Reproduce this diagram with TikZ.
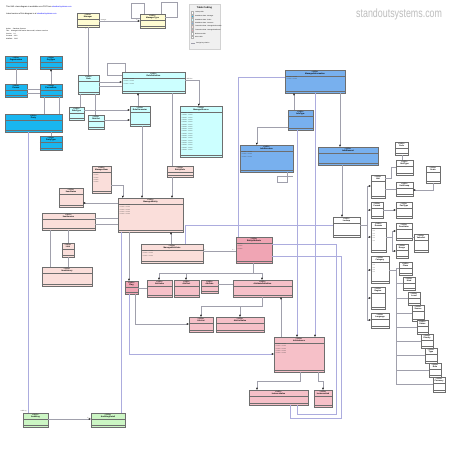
\documentclass[tikz,border=0pt]{standalone}
\usepackage{fontspec}
\setmainfont{Liberation Sans}
\usetikzlibrary{fit,arrows.meta,calc}
\definecolor{bblue}{RGB}{25,182,240}
\definecolor{lcyan}{RGB}{204,255,255}
\definecolor{mblue}{RGB}{120,176,238}
\definecolor{lyel}{RGB}{255,252,210}
\definecolor{lpink}{RGB}{250,222,218}
\definecolor{mpink}{RGB}{246,192,200}
\definecolor{dpink}{RGB}{240,165,180}
\definecolor{lgreen}{RGB}{204,246,196}
\definecolor{lnc}{RGB}{160,160,172}
\definecolor{lav}{RGB}{172,172,222}
\definecolor{bordc}{RGB}{110,110,110}
\definecolor{wmark}{RGB}{190,190,190}
\newcommand{\tbl}[7]{%
  \node[tbox,fill=#2,fit={(#3,#4)(#5,#6)}] (#1) {};
  \node[ttl,anchor=north] at ([yshift=-0.6pt]#1.north) {«table»\\\textbf{#7}};
  \draw[sep] ([yshift=-5.8pt]#1.north west) -- ([yshift=-5.8pt]#1.north east);
  \draw[sep] ([yshift=2.5pt]#1.south west) -- ([yshift=2.5pt]#1.south east);
}
\newcommand{\rws}[3]{\foreach \i in {1,...,#2}{\node[atr,anchor=north west] at ([xshift=1.2pt,yshift={-6.6pt-(\i-1)*2.3pt}]#1.north west) {#3};}}
\newcommand{\vc}[4][]{\coordinate (tx) at (#4,0);\draw[conn,#1] (#2.south -| tx) -- (#3.north -| tx);}
\newcommand{\hc}[4][]{\coordinate (ty) at (0,#4);\draw[conn,#1] (#2.east |- ty) -- (#3.west |- ty);}
\begin{document}
\begin{tikzpicture}[x=1pt,y=-1pt,
  tbox/.style={draw=bordc, line width=0.35pt, inner sep=0pt},
  ttl/.style={font=\fontsize{2}{2.4}\selectfont, align=center, inner sep=0pt},
  atr/.style={font=\fontsize{1.3}{1.5}\selectfont, inner sep=0pt, text=black!75},
  sep/.style={draw=bordc, line width=0.2pt},
  conn/.style={draw=lnc, line width=0.4pt},
  lng/.style={draw=lav, line width=0.5pt},
  arr/.style={-{Stealth[length=2.2pt,width=1.8pt,color=black]}},
  rarr/.style={{Stealth[length=2.2pt,width=1.8pt,color=black]}-},
  lbl/.style={font=\fontsize{1.5}{1.7}\selectfont, inner sep=0.3pt, text=black!70}]
\fill[white] (0,0) rectangle (452,452);
\useasboundingbox (0,0) rectangle (452,452);

% header texts
\node[anchor=west,font=\fontsize{2}{2.4}\selectfont,inner sep=0] (t1) at (6,7) {This UML class diagram is available as a PDF from \textcolor{blue}{standoutsystems.com}};
\node[anchor=west,font=\fontsize{2}{2.4}\selectfont,inner sep=0] (t2) at (6,14) {Latest version of this diagram is at \textcolor{blue}{standoutsystems.com}};
\node[anchor=north west,font=\fontsize{1.6}{2.5}\selectfont,inner sep=0,align=left] (t3) at (6,28) {Author:\quad Standout Systems\\Title:\quad Managed Information data model, schema overview\\Version:\quad 1.0\\Created:\quad 2012\\Modified:\quad 2012};
\node[anchor=west,text=wmark,font=\fontsize{12}{13}\selectfont,inner sep=0] (wm) at (356,14) {\scalebox{0.74}[1]{standoutsystems.com}};

% legend
\node[fill=gray!12,draw=gray!35,line width=0.3pt,inner sep=0,fit={(189,4)(220,49)}] (legend) {};
\node[font=\fontsize{2.4}{3}\selectfont\bfseries,inner sep=0] (lt) at (204.5,7.5) {Table Coding};
\foreach \y/\c/\t in {12.5/white/Lookup table, 16/bblue/Standalone data - Manager, 19.5/lcyan/Standalone data - Rules, 23/mblue/Standalone data - Structure, 26.5/lpink/Transaction data - Managed Information, 30/dpink/Transaction data - Managed Attributes, 33.5/white/Reference table, 37/white/Other table}{
  \fill[\c,draw=gray!60,line width=0.2pt] (191,\y-1.2) rectangle (193.4,\y+1.2);
  \node[anchor=west,font=\fontsize{1.5}{1.8}\selectfont,inner sep=0] at (195,\y) {\t};}
\draw[lnc,line width=0.3pt] (191,43) -- (195,43);
\node[anchor=west,font=\fontsize{1.5}{1.8}\selectfont,inner sep=0] (lf) at (196,43) {Foreign key relation};

% yellow
\tbl{Y1}{lyel}{77}{13}{99}{27}{Manager}
\tbl{Y2}{lyel}{140}{14}{165}{28}{ManagerType}
% bright blue
\tbl{B1}{bblue}{5}{56}{27}{69}{Organisation}
\tbl{B2}{bblue}{40}{56}{62}{69}{OrgType}
\tbl{B3}{bblue}{5}{84}{27}{97}{Person}
\tbl{B4}{bblue}{40}{84}{62}{97}{PersonRole}
\tbl{B5}{bblue}{5}{114}{62}{132}{Party}
\tbl{B6}{bblue}{40}{136}{62}{150}{PartyType}
% light cyan
\tbl{C1}{lcyan}{78}{75}{99}{94}{Rule}
\tbl{C2}{lcyan}{122}{72}{185}{93}{RuleDefinition}
\rws{C2}{3}{+ column : varchar}
\tbl{C3}{lcyan}{69}{107}{84}{120}{RuleType}
\tbl{C4}{lcyan}{88}{115}{104}{129}{RuleSet}
\tbl{C5}{lcyan}{130}{106}{150}{126}{RuleParameter}
\tbl{C6}{lcyan}{180}{106}{222}{157}{ManagedSource}
\rws{C6}{17}{+ attribute : varchar}
% medium blue
\tbl{M1}{mblue}{285}{70}{345}{93}{ManagedInformation}
\rws{M1}{2}{+ column : varchar}
\tbl{M2}{mblue}{288}{110}{313}{130}{InfoType}
\tbl{M3}{mblue}{240}{145}{293}{172}{InfoStructure}
\rws{M3}{3}{+ column : varchar}
\tbl{M4}{mblue}{318}{147}{378}{165}{InfoElement}
% pink
\tbl{P1}{lpink}{92}{166}{111}{193}{ManagedItem}
\rws{P1}{5}{+ column}
\tbl{P2}{lpink}{59}{188}{83}{207}{ItemStatus}
\tbl{P3}{lpink}{42}{213}{95}{230}{ItemVersion}
\tbl{P4}{lpink}{62}{243}{74}{257}{Link}
\tbl{P5}{lpink}{42}{267}{92}{286}{ItemHistory}
\tbl{P6}{lpink}{118}{198}{183}{232}{ManagedEntity}
\rws{P6}{5}{+ column : varchar}
\tbl{P7}{lpink}{167}{166}{193}{177}{EntityRule}
\tbl{P8}{lpink}{141}{244}{203}{263}{ManagedAttribute}
\rws{P8}{3}{+ column : varchar}
\tbl{P9}{mpink}{147}{280}{172}{297}{AttrValue}
\tbl{P10}{mpink}{174}{280}{199}{297}{AttrText}
\tbl{P11}{mpink}{201}{280}{218}{293}{AttrDate}
\tbl{P12}{mpink}{233}{280}{292}{297}{AttributeDefinition}
\tbl{P13}{mpink}{189}{317}{213}{332}{AttrList}
\tbl{P14}{mpink}{216}{317}{264}{332}{AttrListValue}
\tbl{P15}{mpink}{274}{337}{324}{372}{InfoInstance}
\rws{P15}{5}{+ column : varchar}
\tbl{P16}{mpink}{249}{390}{308}{405}{InstanceValue}
\tbl{P17}{mpink}{314}{390}{332}{407}{InstanceLink}
\tbl{D1}{dpink}{125}{281}{138}{294}{Flag}
\tbl{D2}{dpink}{236}{237}{272}{263}{EntityAttribute}
\rws{D2}{3}{+ column}
% white
\tbl{W0}{white}{395}{142}{408}{155}{Code}
\tbl{W1}{white}{371}{175}{385}{198}{Unit}
\tbl{W2}{white}{396}{160}{413}{175}{UnitType}
\tbl{W3}{white}{396}{182}{413}{196}{UnitGroup}
\tbl{W4}{white}{426}{166}{440}{183}{Scale}
\tbl{W5}{white}{371}{202}{383}{218}{Format}
\tbl{W6}{white}{396}{202}{412}{218}{FmtType}
\tbl{W7}{white}{371}{222}{386}{252}{Domain}
\rws{W7}{6}{+ col}
\tbl{W8}{white}{396}{223}{412}{240}{DomValue}
\tbl{W9}{white}{414}{234}{428}{252}{ValueSet}
\tbl{W10}{white}{396}{244}{408}{258}{Range}
\tbl{W11}{white}{371}{256}{389}{283}{Category}
\rws{W11}{5}{+ col}
\tbl{W12}{white}{399}{262}{412}{275}{Class}
\tbl{W13}{white}{403}{277}{415}{290}{Kind}
\tbl{W14}{white}{408}{292}{420}{305}{Level}
\tbl{W15}{white}{371}{287}{385}{309}{Region}
\tbl{W16}{white}{371}{313}{389}{328}{Language}
\tbl{W17}{white}{412}{305}{424}{321}{Source}
\tbl{W18}{white}{417}{320}{428}{334}{Status}
\tbl{W19}{white}{421}{334}{433}{348}{Priority}
\tbl{W20}{white}{425}{348}{437}{363}{Type}
\tbl{W21}{white}{429}{363}{441}{377}{Role}
\tbl{W22}{white}{433}{377}{445}{392}{Currency}
\tbl{WC}{white}{333}{217}{360}{237}{Lookup}
% green
\tbl{G1}{lgreen}{23}{413}{48}{427}{AuditLog}
\tbl{G2}{lgreen}{91}{413}{125}{427}{AuditLogDetail}

% ---------- connectors ----------
\hc[arr]{Y1}{Y2}{21}
\node[lbl,anchor=south west] at (100,21) {manager};
\node[lbl,anchor=south east] at (139,21) {0..*};
\vc{Y1}{C1}{88}
\node[lbl,anchor=north east] at (87,28) {1};
\draw[conn] ([xshift=-4pt]Y2.north east) |- (177,2) |- ([yshift=-3pt]Y2.north east);
\draw[conn] ([xshift=4pt]Y2.north west) |- (131,3) |- ([yshift=-4pt]Y2.north west);
\draw[conn] ([xshift=3pt]C2.north west) |- (107,63) |- ([yshift=-3pt]C2.north west);
\hc[arr]{C1}{C2}{82}
\hc{C1}{C2}{86}
\vc{C1}{C3}{80}
\vc{C1}{C4}{95}
\hc[arr]{C3}{C5}{110}
\hc[arr]{C4}{C5}{120}
\vc[rarr]{C2}{C5}{138}
\coordinate (ty) at (0,80);
\draw[conn,arr] (C2.east |- ty) -| ([xshift=19pt]C6.north west);
\node[lbl,anchor=south west] at (186,80) {definition};
\vc{C2}{P7}{172}
\vc[arr]{P7}{P6}{172}
\vc[arr]{C5}{P6}{142}
% bright blue
\vc{B1}{B3}{16}
\vc[rarr]{B2}{B4}{51}
\hc{B3}{B4}{89}
\hc{B3}{B4}{93}
\vc{B4}{B5}{44}
\vc{B4}{B5}{59}
\vc{B5}{B6}{51}
\vc[lng]{B5}{G1}{28}
\hc[arr]{G1}{G2}{419}
\node[lbl,anchor=south east] at (27,412) {auditLog};
\node[lbl,anchor=south east] at (90,419) {1..*};
\vc[lng]{P6}{G2}{121}
% pink
\coordinate (ty) at (0,185);
\draw[conn,arr] (P1.east |- ty) -| ([xshift=5pt]P6.north west);
\hc[rarr]{P2}{P6}{203}
\hc{P3}{P6}{218}
\hc{P3}{P6}{224}
\vc{P3}{P5}{50}
\vc{P3}{P4}{68}
\vc{P4}{P5}{68}
\vc[rarr]{P6}{P8}{171}
\vc[arr]{P6}{D1}{129}
\hc{D1}{P9}{288}
\coordinate (ty) at (0,324);
\draw[conn,arr] ([xshift=10pt]D1.south west) |- (P13.west |- ty);
\coordinate (ty) at (0,354);
\draw[lng,arr] ([xshift=4pt]D1.south west) |- (P15.west |- ty);
\coordinate (ty) at (0,225);
\draw[lng] ([xshift=44pt]P8.north west) |- (WC.west |- ty);
\hc{P8}{D2}{251}
\node[lbl,anchor=south west] at (204,251) {1};
\node[lbl,anchor=south east] at (235,251) {0..*};
% bus below D2
\coordinate (tx) at (253,0);
\draw[conn] (D2.south -| tx) -- (253,273);
\coordinate (b1) at (159,273);
\coordinate (b2) at (186,273);
\coordinate (b3) at (262,273);
\draw[conn] (b1) -- (b3);
\draw[conn,arr] (b1) -- (b1 |- P9.north);
\draw[conn,arr] (b2) -- (b2 |- P10.north);
\draw[conn,arr] (b3) -- (b3 |- P12.north);
\hc{P11}{P12}{284}
\vc[rarr]{P12}{P15}{281}
\coordinate (b4) at (262,306);
\coordinate (b5) at (201,306);
\coordinate (b6) at (240,306);
\draw[conn] (P12.south -| b4) -- (b4) -- (b5);
\draw[conn,arr] (b5) -- (b5 |- P13.north);
\draw[conn,arr] (b6) -- (b6 |- P14.north);
% medium blue
\coordinate (ty) at (0,77);
\draw[lng] (M1.west |- ty) -| ([xshift=2pt]D2.north west);
\vc[rarr]{M1}{M2}{294}
\vc[lng,arr]{M2}{P15}{297}
\coordinate (ty) at (0,127);
\draw[conn,arr] (M2.west |- ty) -| ([xshift=17pt]M3.north west);
\vc[arr]{M1}{M4}{340}
\vc[lng,arr]{M1}{P15}{315}
\draw[conn] ([xshift=-6pt]M3.south east) |- (277,182) |- ([yshift=-4pt]M3.south east);
\vc[arr]{M4}{WC}{342}
\coordinate (ty) at (0,244);
\coordinate (tx) at (297,0);
\draw[lng] (D2.east |- ty) -- (336,244) -- (336,414) -- (297,414) -- (P16.south -| tx);
\coordinate (ty) at (0,256);
\coordinate (tx) at (290,0);
\draw[lng] (D2.east |- ty) -- (341,256) -- (341,418) -- (290,418) -- (P16.south -| tx);
\coordinate (tx) at (300,0);
\coordinate (tx2) at (257,0);
\draw[conn,arr] (P15.south -| tx) -- (300,381) -| (P16.north -| tx2);
\coordinate (tx) at (318,0);
\coordinate (tx2) at (323,0);
\draw[conn,arr] (P15.south -| tx) -- (318,381) -| (P17.north -| tx2);
% white lookups
\coordinate (ty) at (0,225);
\draw[conn] (WC.east |- ty) -- (367,225);
\draw[conn] (367,186) -- (367,320);
\foreach \n/\yy in {W1/186, W5/210, W7/237, W11/270, W15/298, W16/320}{
  \coordinate (ty) at (367,\yy);
  \draw[conn,arr] (ty) -- (\n.west |- ty);}
\hc{W1}{W3}{189}
\coordinate (ty) at (0,190);
\draw[conn,rarr] (W3.east |- ty) -| (W4.south);
\coordinate (ty) at (0,178);
\draw[conn] (W1.east |- ty) -- (391,178) |- (W2.west);
\vc{W0}{W2}{402}
\hc[arr]{W5}{W6}{210}
\coordinate (ty) at (0,237);
\draw[conn] (W7.east |- ty) -- (392,237);
\draw[conn] (392,231) -- (392,251);
\coordinate (ty) at (392,231);
\draw[conn,arr] (ty) -- (W8.west |- ty);
\coordinate (ty) at (392,251);
\draw[conn,arr] (ty) -- (W10.west |- ty);
\hc{W8}{W9}{237}
\coordinate (ty) at (0,270);
\draw[conn] (W11.east |- ty) -- (396,270);
\draw[conn] (396,268) -- (396,384);
\foreach \n/\yy in {W12/268, W13/283, W14/298, W17/313, W18/327, W19/341, W20/355, W21/370, W22/384}{
  \coordinate (ty) at (396,\yy);
  \draw[conn] (ty) -- (\n.west |- ty);}
\end{tikzpicture}
\end{document}
